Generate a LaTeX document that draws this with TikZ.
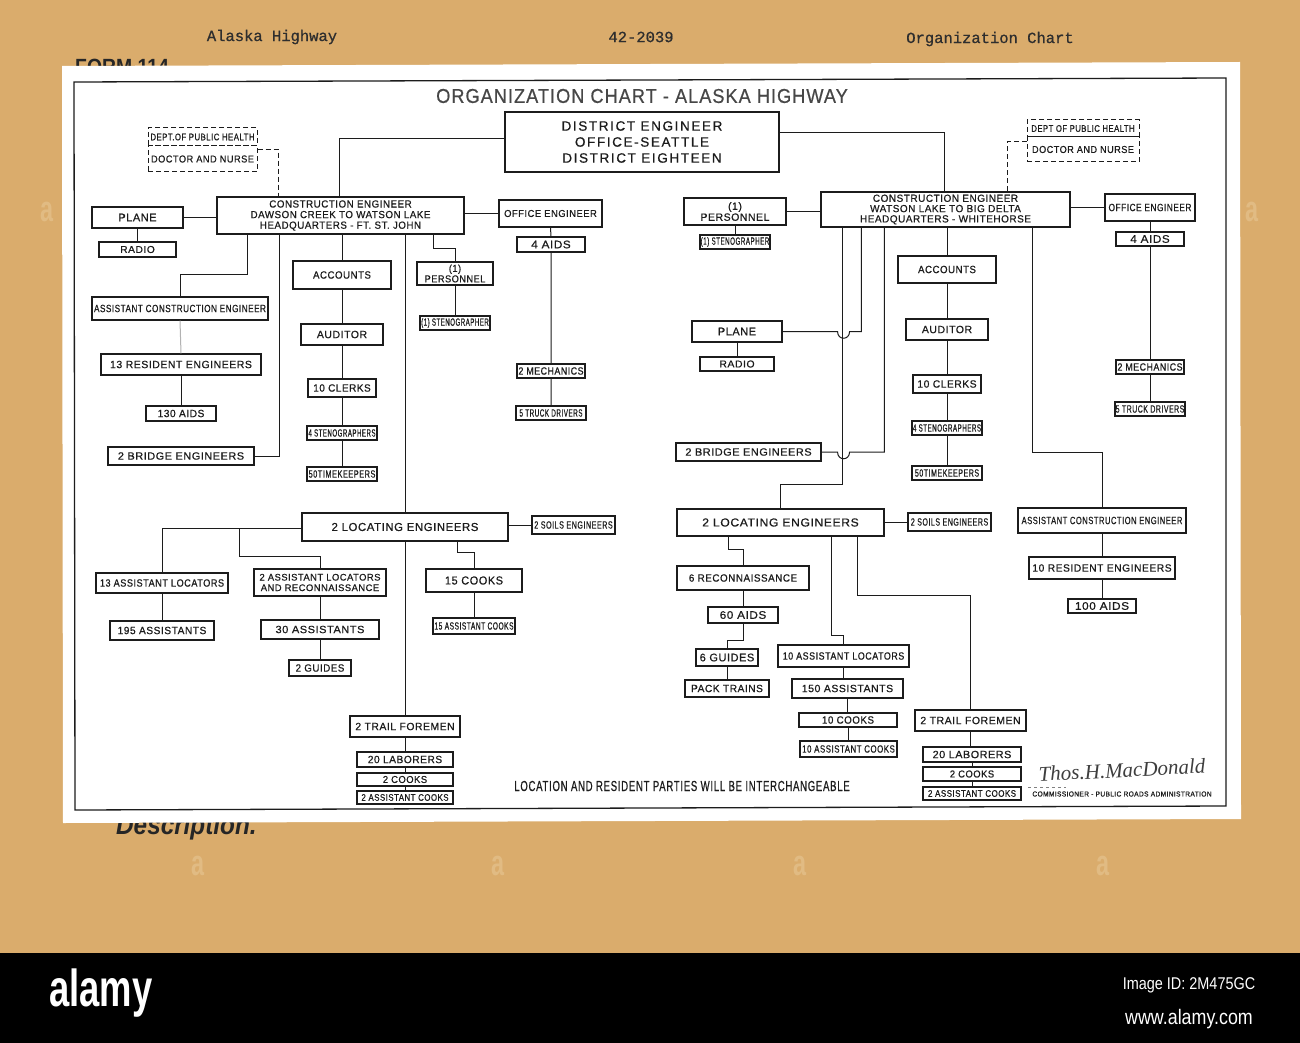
\documentclass[tikz,border=0pt]{standalone}
\usepackage{fontspec}
\setmainfont{Liberation Sans}
\setsansfont{Liberation Sans}
\newfontfamily\lw[LetterSpace=5,FakeBold=0.6]{Liberation Sans}
\newfontfamily\lwide[LetterSpace=12,FakeBold=0.6]{Liberation Sans}
\newfontfamily\lplain{Liberation Sans}
\newfontfamily\typew[FakeBold=0.8]{Liberation Mono}
\newfontfamily\sigfont{Liberation Serif}
\newcommand\fs[2]{\fontsize{#1}{#2}\selectfont}
\definecolor{tan}{RGB}{218,172,108}
\definecolor{tanwm}{RGB}{228,194,142}
\definecolor{ink}{RGB}{28,28,28}
\newcommand\bx[7][]{\node[box,#1,minimum width={#5pt-#3pt},minimum height={#6pt-#4pt}] (#2) at ({(#3+#5)/2},{(#4+#6)/2}) {#7};}
\begin{document}
\begin{tikzpicture}[x=1pt,y=-1pt,
  box/.style={draw=ink,line width=1.1pt,inner sep=0pt,align=center,fill=white,text=ink},
  dsh/.style={draw=ink,line width=1pt,dash pattern=on 5pt off 3pt},
  conn/.style={draw=ink,line width=1pt},
  t3/.style n args={3}{font={\lw\addfontfeature{FakeStretch=#3}\fontsize{#1}{#2}\selectfont}},
  t/.style 2 args={t3={#1}{#1}{#2}},
  hdr/.style={font=\typew\fs{15.5}{16},text=black!82}]
\useasboundingbox (0,0) rectangle (1300,1043);
\fill[tan] (0,0) rectangle (1300,953);
\fill[black] (0,953) rectangle (1300,1043);
% header texts on the envelope
\node[hdr] (h1) at (272,37) {Alaska Highway};
\node[hdr] (h2) at (641,37) {42-2039};
\node[hdr] (h3) at (990,39) {Organization Chart};
\node[font={\lplain\bfseries\addfontfeature{FakeStretch=0.88}\fs{22}{22}},text=black!85,anchor=base west,inner sep=0pt] (form) at (75,75) {FORM 114};
\node[font={\lplain\bfseries\itshape\addfontfeature{FakeStretch=0.9}\fs{27}{27}},text=black!85,anchor=base west,inner sep=0pt] (descr) at (116,834) {Description.};
% faint watermark letters
\foreach \wx/\wy [count=\i] in {198/866,498/866,800/866,1103/866,47/212,1252/212}
  \node[font={\lplain\bfseries\addfontfeature{FakeStretch=0.65}\fs{36}{36}},text=tanwm,opacity=0.7] (wm\i) at (\wx,\wy) {a};
% white card and frame
\fill[white] (62,66) -- (1240,62) -- (1241,819) -- (63,823) -- cycle;
\draw[ink,line width=1.3pt] (74,82) -- (1226,78) -- (1226,806) -- (75,810) -- cycle;
% title
\node[font={\lw\addfontfeature{FakeStretch=0.91}\fs{20}{20}},text=black!72] (title) at (642,96) {ORGANIZATION CHART - ALASKA HIGHWAY};
% ---------- top
\bx[font={\lwide\fs{13.5}{16}}]{de}{505}{112}{779}{172}{DISTRICT ENGINEER\\OFFICE-SEATTLE\\DISTRICT EIGHTEEN}
% ---------- left half
\bx[dsh,t={9.5}{0.82}]{lhA}{148}{128}{257}{146}{DEPT.OF PUBLIC HEALTH}
\bx[dsh,t={10}{0.92}]{lhB}{148}{146}{257}{172}{DOCTOR AND NURSE}
\bx[t3={10.3}{10.6}{0.95}]{lce}{217}{197}{464}{234}{CONSTRUCTION ENGINEER\\DAWSON CREEK TO WATSON LAKE\\HEADQUARTERS - FT. ST. JOHN}
\bx[t={11}{1.0}]{lplane}{92}{207}{183}{228}{PLANE}
\bx[t={10}{1.03}]{lradio}{99}{242}{176}{257}{RADIO}
\bx[t={10}{0.94}]{lofe}{499}{200}{602}{227}{OFFICE ENGINEER}
\bx[t={11}{1.07}]{lfour}{517}{237}{585}{252}{4 AIDS}
\bx[t={10.5}{0.84}]{lmech}{517}{364}{585}{378}{2 MECHANICS}
\bx[t={10.5}{0.6}]{ltruck}{516}{406}{586}{420}{5 TRUCK DRIVERS}
\bx[t={10.5}{0.92}]{lacc}{293}{261}{391}{289}{ACCOUNTS}
\bx[t={10.5}{1.0}]{laud}{301}{324}{383}{345}{AUDITOR}
\bx[t={10.5}{0.95}]{lclk}{308}{379}{376}{397}{10 CLERKS}
\bx[t={10.5}{0.58}]{lsten}{307}{426}{377}{440}{4 STENOGRAPHERS}
\bx[t={10.5}{0.7}]{ltime}{307}{467}{377}{481}{50TIMEKEEPERS}
\bx[t3={10}{10.5}{0.92}]{lpers}{417}{262}{493}{285}{(1)\\PERSONNEL}
\bx[t={10.5}{0.58}]{lsteno}{420}{316}{490}{330}{(1) STENOGRAPHER}
\bx[t={10.5}{0.775}]{lace}{92}{297}{268}{320}{ASSISTANT CONSTRUCTION ENGINEER}
\bx[t={10.5}{1.0}]{lres}{101}{354}{261}{375}{13 RESIDENT ENGINEERS}
\bx[t={10.5}{0.97}]{lhund}{146}{406}{216}{421}{130 AIDS}
\bx[t={10.5}{1.04}]{lbrg}{108}{447}{254}{465}{2 BRIDGE ENGINEERS}
\bx[t={11.5}{0.99}]{lloc}{302}{513}{508}{541}{2 LOCATING ENGINEERS}
\bx[t={10.5}{0.68}]{lsoil}{532}{516}{615}{534}{2 SOILS ENGINEERS}
\bx[t={10.5}{0.87}]{lal13}{96}{573}{228}{593}{13 ASSISTANT LOCATORS}
\bx[t3={9.5}{10.5}{0.99}]{lal2}{254}{569}{386}{596}{2 ASSISTANT LOCATORS\\AND RECONNAISSANCE}
\bx[t={10.5}{0.97}]{l195}{110}{621}{214}{640}{195 ASSISTANTS}
\bx[t={10.5}{1.05}]{l30}{261}{620}{379}{639}{30 ASSISTANTS}
\bx[t={10.5}{0.93}]{l2g}{289}{660}{351}{676}{2 GUIDES}
\bx[t={11.5}{0.95}]{l15c}{426}{569}{522}{592}{15 COOKS}
\bx[t={10.5}{0.63}]{l15a}{433}{618}{515}{634}{15 ASSISTANT COOKS}
\bx[t={10.5}{0.99}]{ltf}{350}{716}{460}{737}{2 TRAIL FOREMEN}
\bx[t={10.5}{0.97}]{llab}{357}{752}{453}{767}{20 LABORERS}
\bx[t={10}{0.94}]{lck}{357}{773}{453}{786}{2 COOKS}
\bx[t={9.5}{0.83}]{lack}{357}{791}{453}{804}{2 ASSISTANT COOKS}
% ---------- right half
\bx[dsh,t={9.5}{0.81}]{rhA}{1027}{120}{1139}{137}{DEPT OF PUBLIC HEALTH}
\bx[dsh,t={10}{0.91}]{rhB}{1027}{137}{1139}{162}{DOCTOR AND NURSE}
\bx[t3={10.3}{10.3}{0.97}]{rce}{821}{192}{1070}{227}{CONSTRUCTION ENGINEER\\WATSON LAKE TO BIG DELTA\\HEADQUARTERS - WHITEHORSE}
\bx[t3={10.5}{11}{1.0}]{rpers}{684}{198}{786}{225}{(1)\\PERSONNEL}
\bx[t={10.5}{0.59}]{rsteno}{700}{235}{770}{249}{(1) STENOGRAPHER}
\bx[t={10.5}{0.79}]{rofe}{1105}{194}{1195}{221}{OFFICE ENGINEER}
\bx[t={11}{1.07}]{rfour}{1116}{232}{1184}{246}{4 AIDS}
\bx[t={10.5}{0.84}]{rmech}{1116}{360}{1184}{374}{2 MECHANICS}
\bx[t={10.5}{0.66}]{rtruck}{1115}{402}{1185}{416}{5 TRUCK DRIVERS}
\bx[t={10.5}{0.92}]{racc}{898}{256}{996}{283}{ACCOUNTS}
\bx[t={10.5}{1.0}]{raud}{906}{319}{988}{340}{AUDITOR}
\bx[t={10.5}{0.98}]{rclk}{913}{375}{981}{393}{10 CLERKS}
\bx[t={10.5}{0.59}]{rsten}{912}{421}{982}{435}{4 STENOGRAPHERS}
\bx[t={10.5}{0.67}]{rtime}{912}{466}{982}{480}{50TIMEKEEPERS}
\bx[t={11}{1.0}]{rplane}{692}{321}{782}{342}{PLANE}
\bx[t={10}{1.05}]{rradio}{700}{357}{774}{371}{RADIO}
\bx[t={10.5}{1.04}]{rbrg}{676}{443}{821}{461}{2 BRIDGE ENGINEERS}
\bx[t={11.5}{1.06}]{rloc}{677}{509}{884}{536}{2 LOCATING ENGINEERS}
\bx[t={10.5}{0.67}]{rsoil}{908}{513}{991}{531}{2 SOILS ENGINEERS}
\bx[t={10.5}{0.94}]{rrec}{677}{566}{809}{590}{6 RECONNAISSANCE}
\bx[t={11}{1.07}]{rsixty}{708}{607}{778}{623}{60 AIDS}
\bx[t={11}{1.0}]{rsixg}{696}{649}{758}{666}{6 GUIDES}
\bx[t={10.5}{0.97}]{rpack}{685}{680}{769}{697}{PACK TRAINS}
\bx[t={10.5}{0.85}]{ral}{778}{645}{909}{667}{10 ASSISTANT LOCATORS}
\bx[t={10.5}{1.0}]{rass}{792}{679}{903}{698}{150 ASSISTANTS}
\bx[t={10.5}{0.93}]{rtenc}{799}{713}{897}{727}{10 COOKS}
\bx[t={10.5}{0.75}]{rtena}{800}{741}{897}{757}{10 ASSISTANT COOKS}
\bx[t={10.5}{1.0}]{rtf}{915}{710}{1026}{731}{2 TRAIL FOREMEN}
\bx[t={10.5}{1.03}]{rlab}{923}{747}{1021}{762}{20 LABORERS}
\bx[t={10}{0.94}]{rck}{923}{767}{1021}{781}{2 COOKS}
\bx[t={9.5}{0.84}]{rack}{923}{787}{1021}{800}{2 ASSISTANT COOKS}
\bx[t={10.5}{0.72}]{race}{1018}{508}{1186}{533}{ASSISTANT CONSTRUCTION ENGINEER}
\bx[t={10.5}{0.98}]{rres}{1029}{557}{1175}{579}{10 RESIDENT ENGINEERS}
\bx[t={11}{1.08}]{rhund}{1068}{599}{1136}{613}{100 AIDS}
% ---------- connectors: top
\draw[conn] ([yshift=-27pt]de.north west) -| ([xshift=123pt]lce.north west);
\draw[conn] ([yshift=-21pt]de.north east) -| ([xshift=124pt]rce.north west);
\draw[dsh] ([yshift=-4pt]lhB.north east) -| ([xshift=62pt]lce.north west);
\draw[dsh] ([yshift=-5pt]rhB.north west) -| ([xshift=187pt]rce.north west);
% ---------- connectors: left
\draw[conn] (lplane.east) -- (lplane.east -| lce.west);
\draw[conn] (lplane.south) -- (lradio.north);
\draw[conn] (lofe.west -| lce.east) -- (lofe.west);
\draw[conn] (lofe.south) -- (lfour.north) (lfour.south) -- (lmech.north) (lmech.south) -- (ltruck.north);
\draw[conn] (lce.south -| lacc.north) -- (lacc.north);
\draw[conn] (lacc.south) -- (laud.north) (laud.south) -- (lclk.north) (lclk.south) -- (lsten.north) (lsten.south) -- (ltime.north);
\draw[conn] ([xshift=217pt]lce.south west) -- ++(0,14) -| (lpers.north);
\draw[conn] (lpers.south) -- (lsteno.north);
\draw[conn] ([xshift=31pt]lce.south west) -- ++(0,40) -| (lace.north);
\draw[conn,draw=gray!60] (lace.south) -- (lres.north);
\draw[conn] (lres.south) -- (lhund.north);
\draw[conn] ([xshift=63pt]lce.south west) |- (lbrg.east);
\draw[conn] (lce.south -| lloc.north) -- (lloc.north);
\draw[conn] (lsoil.west -| lloc.east) -- (lsoil.west);
\draw[conn] ([yshift=-16pt]lloc.north west) -| (lal13.north);
\draw[conn] ([xshift=-62pt,yshift=-16pt]lloc.north west) -- ++(0,28) -| (lal2.north);
\draw[conn] (lal13.south) -- (l195.north);
\draw[conn] (lal2.south) -- (l30.north) (l30.south) -- (l2g.north);
\draw[conn] ([xshift=156pt]lloc.south west) -- ++(0,11) -| (l15c.north);
\draw[conn] (l15c.south) -- (l15a.north);
\draw[conn] (lloc.south) -- (ltf.north);
\draw[conn] (ltf.south) -- (llab.north) (llab.south) -- (lck.north) (lck.south) -- (lack.north);
% ---------- connectors: right
\draw[conn] (rpers.east) -- (rpers.east -| rce.west);
\draw[conn] (rpers.south) -- (rsteno.north);
\draw[conn] (rofe.west -| rce.east) -- (rofe.west);
\draw[conn] (rofe.south) -- (rfour.north) (rfour.south) -- (rmech.north) (rmech.south) -- (rtruck.north);
\draw[conn] (rce.south -| racc.north) -- (racc.north);
\draw[conn] (racc.south) -- (raud.north) (raud.south) -- (rclk.north) (rclk.south) -- (rsten.north) (rsten.south) -- (rtime.north);
\draw[conn] (rplane.south) -- (rradio.north);
\draw[conn] ([xshift=41pt]rce.south west) |- ([xshift=67pt]rplane.east)
   .. controls ([xshift=67pt,yshift=-9pt]rplane.east) and ([xshift=55pt,yshift=-9pt]rplane.east) .. ([xshift=55pt]rplane.east) -- (rplane.east);
\draw[conn] ([xshift=64pt]rce.south west) |- ([xshift=28pt]rbrg.east)
   .. controls ([xshift=28pt,yshift=-9pt]rbrg.east) and ([xshift=16pt,yshift=-9pt]rbrg.east) .. ([xshift=16pt]rbrg.east) -- (rbrg.east);
\draw[conn] ([xshift=22pt]rce.south west) -- ++(0,257) -| (rloc.north);
\draw[conn] ([xshift=212pt]rce.south west) -- ++(0,225) -| (race.north);
\draw[conn] (race.south) -- (rres.north) (rres.south) -- (rhund.north);
\draw[conn] (rsoil.west -| rloc.east) -- (rsoil.west);
\draw[conn] ([xshift=52pt]rloc.south west) -- ++(0,13) -| (rrec.north);
\draw[conn] (rrec.south) -- (rsixty.north);
\draw[conn] (rsixty.south) -- ++(0,17) -| (rsixg.north);
\draw[conn] (rsixg.south) -- (rpack.north);
\draw[conn] ([xshift=155pt]rloc.south west) -- ++(0,99) -| (ral.north);
\draw[conn] (ral.south) -- (ral.south |- rass.north) (rass.south) -- (rass.south |- rtenc.north) (rtenc.south) -- (rtenc.south |- rtena.north);
\draw[conn] ([xshift=181pt]rloc.south west) -- ++(0,59) -| (rtf.north);
\draw[conn] (rtf.south) -- (rtf.south |- rlab.north) (rlab.south) -- (rck.north) (rck.south) -- (rack.north);
% ---------- footnote and signature
\node[font={\lw\addfontfeature{FakeStretch=0.66}\fs{14.5}{15}},text=ink] (note) at (682,786) {LOCATION AND RESIDENT PARTIES WILL BE INTERCHANGEABLE};
\node[font=\sigfont\itshape\fs{21}{21},text=ink!85,rotate=3] (sig) at (1122,770) {Thos.H.MacDonald};
\draw[dashed,gray,line width=0.6pt] (1028,787) -- (1066,787);
\node[font={\lw\addfontfeature{FakeStretch=0.92}\fs{7.2}{7.5}},text=ink] (comm) at (1122,794) {COMMISSIONER - PUBLIC ROADS ADMINISTRATION};
% ---------- alamy bar
\node[font={\lplain\bfseries\addfontfeature{FakeStretch=0.7}\fs{52}{52}},text=white] (alamy) at (101,993) {alamy};
\node[font={\lplain\addfontfeature{FakeStretch=0.85}\fs{17}{17}},text=white] (imgid) at (1189,985) {Image ID: 2M475GC};
\node[font={\lplain\addfontfeature{FakeStretch=0.85}\fs{21}{21}},text=white] (www) at (1189,1019) {www.alamy.com};
\end{tikzpicture}
\end{document}
